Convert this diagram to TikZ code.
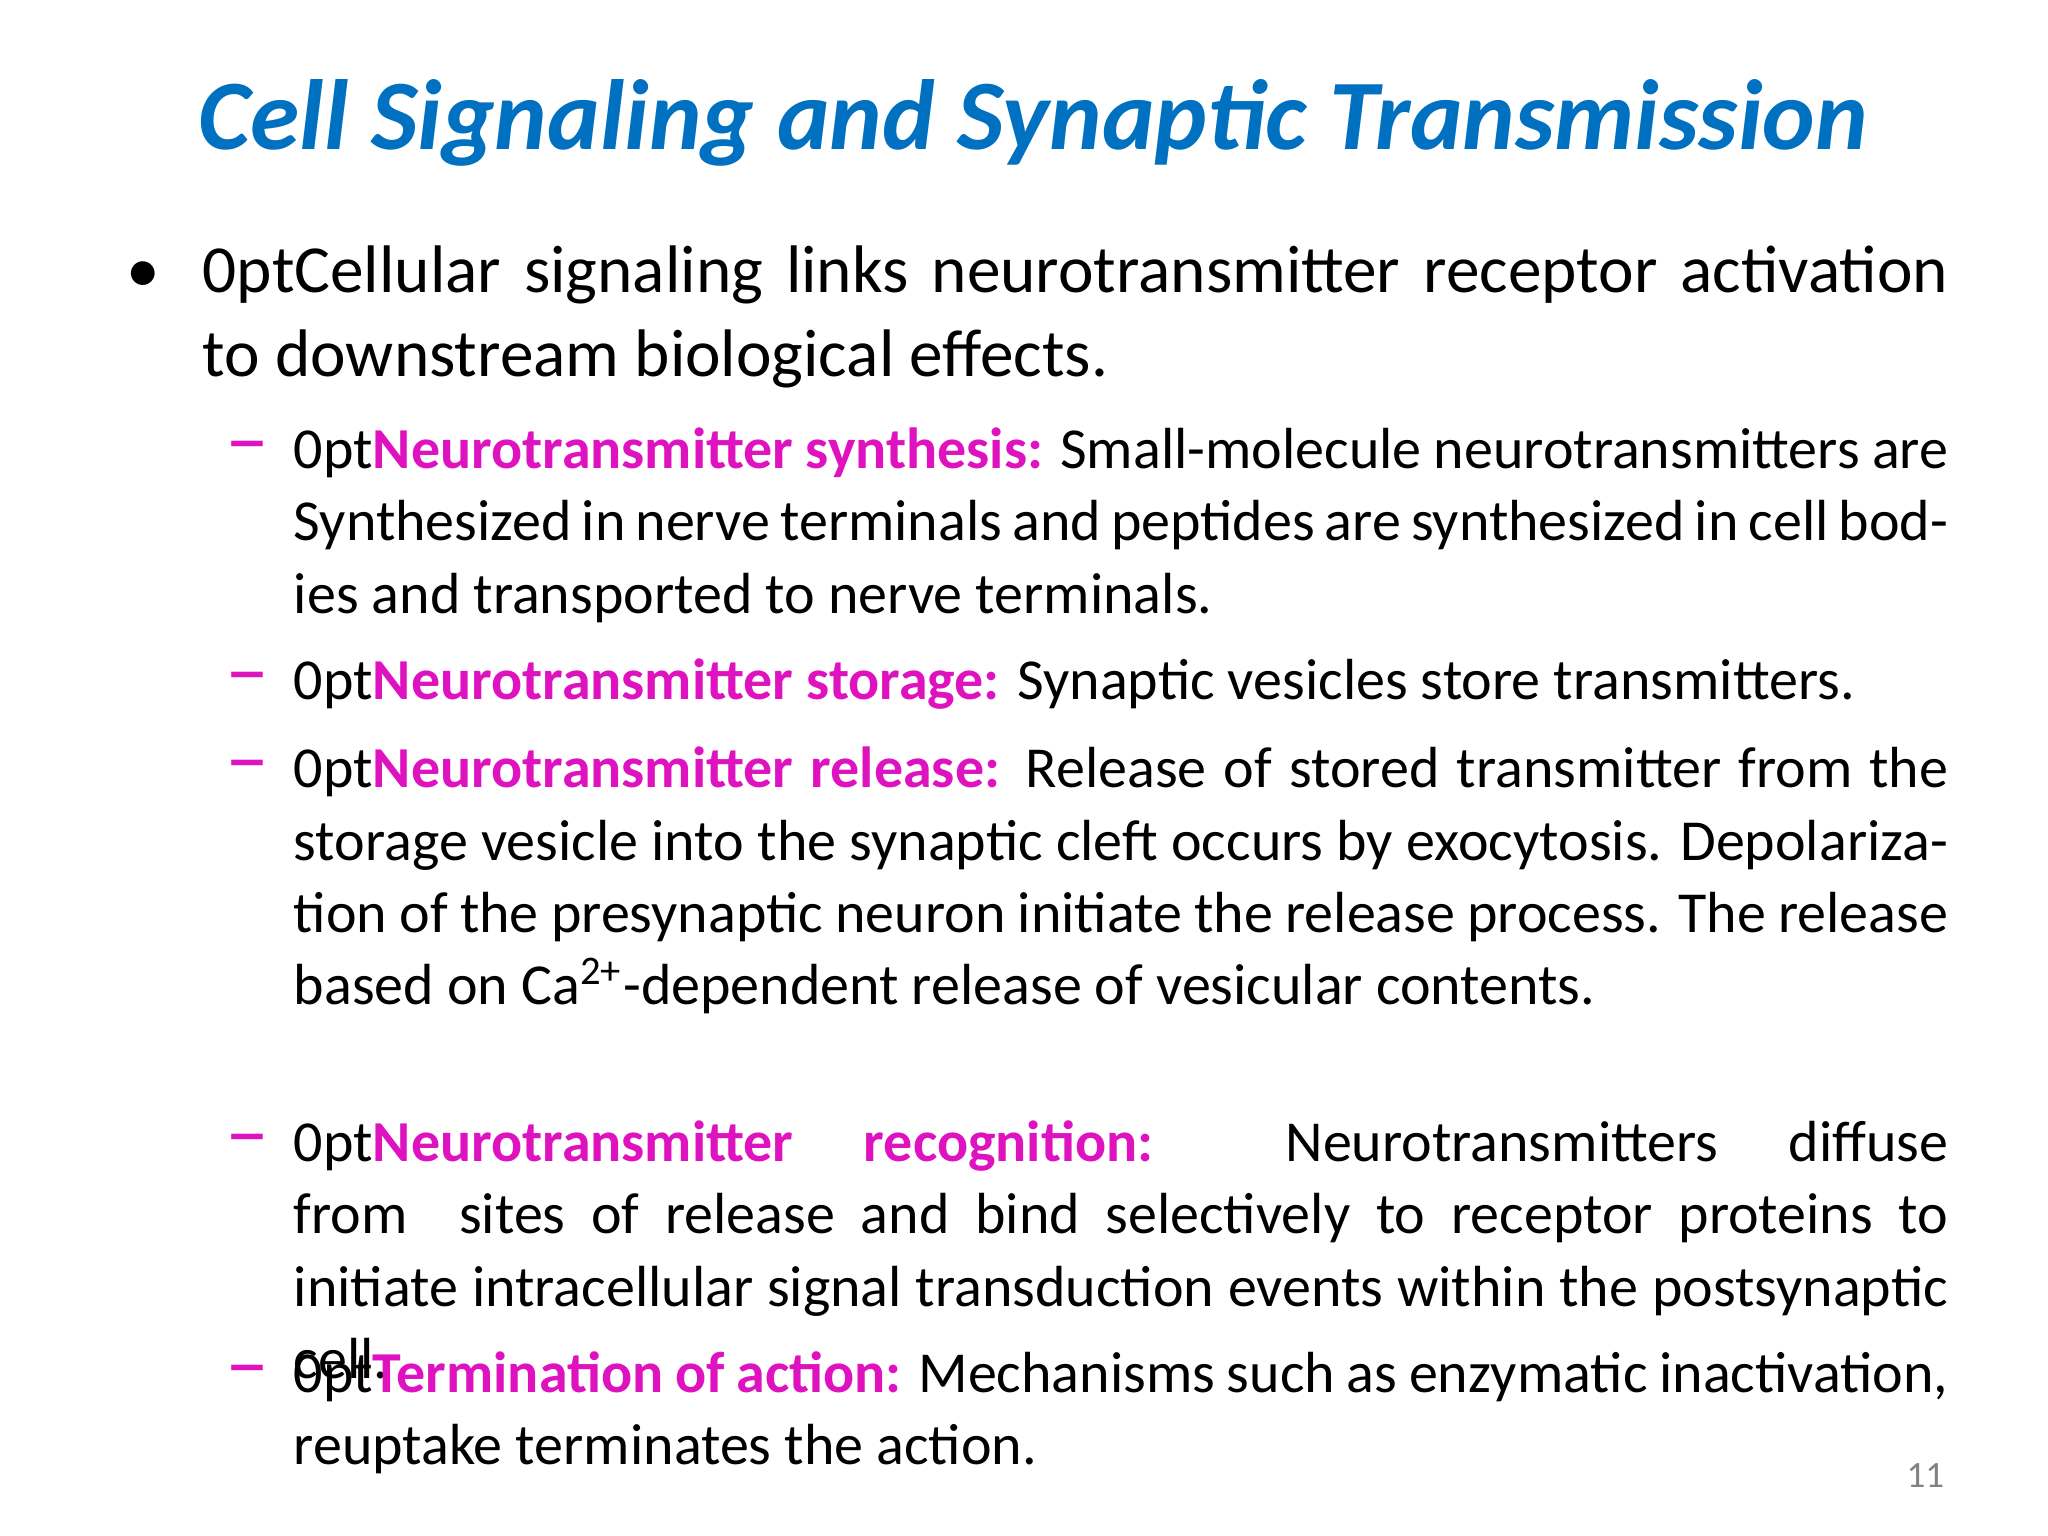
\documentclass[tikz,border=0pt]{standalone}
\usepackage{fontspec}
\setmainfont{Carlito}
\definecolor{tblue}{RGB}{0,112,192}
\definecolor{mag}{RGB}{222,18,190}
\definecolor{pgray}{RGB}{130,130,130}
\begin{document}
\hyphenpenalty=10000 \exhyphenpenalty=10000
\begin{tikzpicture}[x=0.01cm,y=-0.01cm,
  para/.style={anchor=base west,inner sep=0pt,align=justify,font=\fontsize{12.5}{15.6}\selectfont\hyphenpenalty=10000 },
  dashmark/.style={anchor=base west,inner sep=0pt,font=\fontsize{19}{20}\selectfont}]
\useasboundingbox (0,0) rectangle (1552,1164);
\node[anchor=base,inner sep=0pt,font=\fontsize{21.5}{26}\selectfont\bfseries\itshape,text=tblue] (title) at (783,113) {Cell Signaling and Synaptic Transmission};
\node[anchor=base west,inner sep=0pt,font=\fontsize{14.5}{17.9}\selectfont] (b1) at (95,222) {•};
\node[anchor=base west,inner sep=0pt,text width=13.22cm,align=justify,font=\fontsize{14.5}{17.9}\selectfont\hyphenpenalty=10000 ] (p1) at (153,222) {Cellular signaling links neurotransmitter receptor activation to downstream biological effects.\par};
\newcommand{\hi}[1]{\textcolor{mag}{\bfseries #1}}
\foreach \n/\y in {d1/355,d2/530,d3/597,d4/880,d5/1055}{
  \node[dashmark,text=mag] (\n) at (170,\y) {–};
}
\node[para,text width=12.53cm] (s1) at (222,355) {\hi{Neurotransmitter synthesis:} Small-molecule neurotransmitters are Synthesized in nerve terminals and peptides are synthesized in cell bodies and transported to nerve terminals.\par};
\node[para,text width=12.53cm] (s2) at (222,530) {\hi{Neurotransmitter storage:} Synaptic vesicles store transmitters.\par};
\node[para,text width=12.53cm] (s3) at (222,597) {\hi{Neurotransmitter release:} Release of stored transmitter from the storage vesicle into the synaptic cleft occurs by exocytosis. Depolarization of the presynaptic neuron initiate the release process. The release based on Ca\textsuperscript{2+}-dependent release of vesicular contents.\par};
\node[para,text width=12.53cm] (s4) at (222,880) {\hi{Neurotransmitter recognition:} Neurotransmitters diffuse from~ sites of release and bind selectively to receptor proteins to initiate intracellular signal transduction events within the postsynaptic cell.\par};
\node[para,text width=12.53cm] (s5) at (222,1055) {\hi{Termination of action:} Mechanisms such as enzymatic inactivation, reuptake terminates the action.\par};
\node[anchor=base east,inner sep=0pt,font=\fontsize{8}{9}\selectfont,text=pgray] (pn) at (1474,1127) {11};
\end{tikzpicture}
\end{document}
